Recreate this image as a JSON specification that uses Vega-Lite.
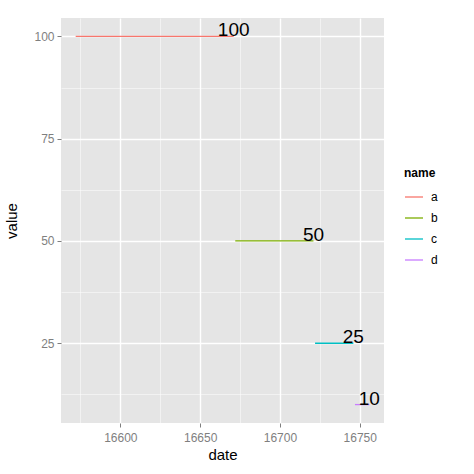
{
  "$schema": "https://vega.github.io/schema/vega-lite/v6.json",
  "width": 323,
  "height": 405,
  "autosize": {"type": "none"},
  "padding": {"left": 61, "top": 18, "right": 90, "bottom": 51},
  "background": "white",
  "config": {
    "view": {"fill": "#E5E5E5", "stroke": null},
    "font": "Liberation Sans",
    "axis": {
      "domain": false,
      "gridColor": "white",
      "tickColor": "#7f7f7f",
      "tickSize": 4,
      "labelColor": "#7f7f7f",
      "labelFontSize": 12,
      "labelFont": "Liberation Sans",
      "titleFont": "Liberation Sans",
      "titleFontSize": 15,
      "titleFontWeight": "normal",
      "titleColor": "black"
    }
  },
  "data": {
    "values": [
      {"name": "a", "value": 100, "start": 16572, "end": 16671},
      {"name": "b", "value": 50, "start": 16672, "end": 16721},
      {"name": "c", "value": 25, "start": 16722, "end": 16746},
      {"name": "d", "value": 10, "start": 16747, "end": 16756}
    ]
  },
  "encoding": {
    "x": {
      "field": "start",
      "type": "quantitative",
      "title": "date",
      "scale": {"domain": [16562.8, 16765.2], "nice": false, "zero": false},
      "axis": {
        "values": [16575, 16600, 16625, 16650, 16675, 16700, 16725, 16750],
        "format": "d",
        "labelExpr": "datum.value % 50 === 0 ? datum.label : ''",
        "tickOpacity": {"condition": {"test": "datum.value % 50 === 0", "value": 1}, "value": 0},
        "gridWidth": {"condition": {"test": "datum.value % 50 === 0", "value": 1.4}, "value": 0.5},
        "labelPadding": 5,
        "titlePadding": 4
      }
    },
    "y": {
      "field": "value",
      "type": "quantitative",
      "title": "value",
      "scale": {"domain": [5.5, 104.5], "nice": false, "zero": false},
      "axis": {
        "values": [12.5, 25, 37.5, 50, 62.5, 75, 87.5, 100],
        "labelExpr": "datum.value % 25 === 0 ? datum.label : ''",
        "tickOpacity": {"condition": {"test": "datum.value % 25 === 0", "value": 1}, "value": 0},
        "gridWidth": {"condition": {"test": "datum.value % 25 === 0", "value": 1.4}, "value": 0.5},
        "labelPadding": 3,
        "titlePadding": 14
      }
    }
  },
  "layer": [
    {
      "mark": {"type": "rule", "strokeWidth": 1.3},
      "encoding": {
        "x2": {"field": "end"},
        "color": {
          "field": "name",
          "type": "nominal",
          "scale": {"domain": ["a", "b", "c", "d"], "range": ["#F8766D", "#7CAE00", "#00BFC4", "#C77CFF"]},
          "legend": {
            "orient": "none",
            "legendX": 343,
            "legendY": 150,
            "title": "name",
            "titleFontSize": 12,
            "titleFontWeight": "bold",
            "titleColor": "black",
            "titlePadding": 7,
            "labelFontSize": 12,
            "labelColor": "black",
            "labelOffset": 7,
            "symbolType": "stroke",
            "symbolSize": 324,
            "symbolStrokeWidth": 1.3,
            "rowPadding": 5
          }
        }
      }
    },
    {
      "mark": {"type": "text", "fontSize": 19, "baseline": "alphabetic", "align": "center", "color": "black", "font": "Liberation Sans"},
      "encoding": {
        "x": {"field": "end", "type": "quantitative"},
        "text": {"field": "value", "type": "quantitative"}
      }
    }
  ]
}
